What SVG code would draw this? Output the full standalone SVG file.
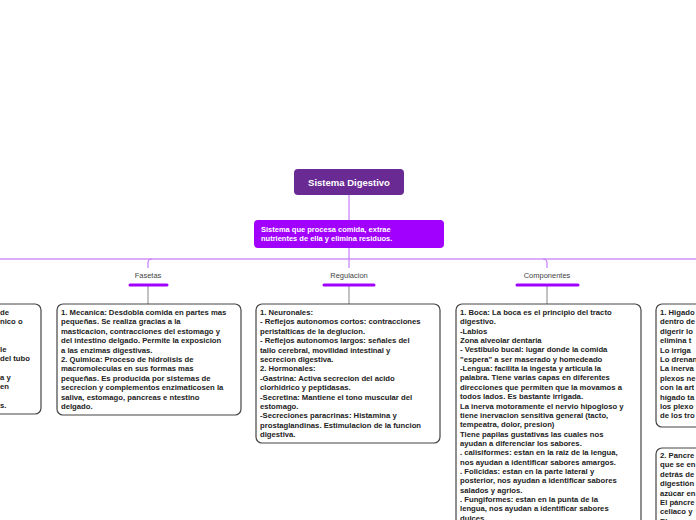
<svg xmlns="http://www.w3.org/2000/svg" width="696" height="520" viewBox="0 0 696 520">
<style>
.box{fill:#fff;stroke:#444;stroke-width:1.2}
.t{font-family:"Liberation Sans",Arial,sans-serif;font-size:7.7px;font-weight:bold;fill:#222}
.lbl{font-family:"Liberation Sans",Arial,sans-serif;font-size:7.5px;fill:#444;text-anchor:middle}
.ul{stroke:#a100ff;stroke-width:3;stroke-linecap:round}
.g{stroke:#999;stroke-width:1.2;fill:none}
.p{stroke:#c77dff;stroke-width:1.2;fill:none}
</style>
<rect width="696" height="520" fill="#fff"/>
<g id="connectors">
<line class="p" x1="349" y1="195" x2="349" y2="221"/>
<line x1="0" y1="259" x2="696" y2="259" stroke="#b45cf0" stroke-width="1.2"/>
<line class="p" x1="349" y1="248" x2="349" y2="268"/>
<path class="p" d="M148 268 V263 Q148 259 152 259"/>
<path class="p" d="M547 268 V263 Q547 259 543 259"/>
<line class="g" x1="148" y1="286" x2="148" y2="304"/>
<line class="g" x1="349" y1="286" x2="349" y2="304"/>
<line class="g" x1="547" y1="286" x2="547" y2="304"/>
</g>
<g id="root">
<rect x="294" y="169" width="110" height="26" rx="4" fill="#6a2a94"/>
<text x="349" y="186" text-anchor="middle" font-family="'Liberation Sans',Arial,sans-serif" font-size="9.5" font-weight="bold" fill="#fff">Sistema Digestivo</text>
</g>
<g id="desc">
<rect x="254" y="220" width="190" height="28" rx="4" fill="#a100ff"/>
<text x="261" y="232" font-family="'Liberation Sans',Arial,sans-serif" font-size="7.5" font-weight="bold" fill="#fff"><tspan x="261">Sistema que procesa comida, extrae</tspan><tspan x="261" dy="9">nutrientes de ella y elimina residuos.</tspan></text>
</g>
<g id="fasetas-label"><text class="lbl" x="148" y="278">Fasetas</text><line class="ul" x1="130" y1="285" x2="167" y2="285"/></g>
<g id="regulacion-label"><text class="lbl" x="349" y="278">Regulacion</text><line class="ul" x1="324" y1="285" x2="374" y2="285"/></g>
<g id="componentes-label"><text class="lbl" x="547" y="278">Componentes</text><line class="ul" x1="517" y1="285" x2="578" y2="285"/></g>
<g id="left-box">
<rect class="box" x="-20" y="304" width="61" height="110" rx="6"/>
<text class="t"><tspan x="0" y="315">de</tspan><tspan x="0" y="324">nico o</tspan><tspan x="0" y="352">le</tspan><tspan x="0" y="361">del tubo</tspan><tspan x="0" y="380">a y</tspan><tspan x="0" y="389">en</tspan><tspan x="0" y="408">s.</tspan></text>
</g>
<g id="fasetas-box">
<rect class="box" x="57" y="304" width="184" height="111" rx="6"/>
<text class="t"><tspan x="61" y="315">1. Mecanica: Desdobla comida en partes mas</tspan><tspan x="61" dy="9.4">pequeñas. Se realiza gracias a la</tspan><tspan x="61" dy="9.4">masticacion, contracciones del estomago y</tspan><tspan x="61" dy="9.4">del intestino delgado. Permite la exposicion</tspan><tspan x="61" dy="9.4">a las enzimas digestivas.</tspan><tspan x="61" dy="9.4">2. Quimica: Proceso de hidrolisis de</tspan><tspan x="61" dy="9.4">macromoleculas en sus formas mas</tspan><tspan x="61" dy="9.4">pequeñas. Es producida por sistemas de</tspan><tspan x="61" dy="9.4">secrecion y complementos enzimaticosen la</tspan><tspan x="61" dy="9.4">saliva, estomago, pancreas e ntestino</tspan><tspan x="61" dy="9.4">delgado.</tspan></text>
</g>
<g id="regulacion-box">
<rect class="box" x="256" y="304" width="184" height="139" rx="6"/>
<text class="t"><tspan x="260" y="315">1. Neuronales:</tspan><tspan x="260" dy="9.4">- Reflejos autonomos cortos: contracciones</tspan><tspan x="260" dy="9.4">peristalticas de la deglucion.</tspan><tspan x="260" dy="9.4">- Reflejos autonomos largos: señales del</tspan><tspan x="260" dy="9.4">tallo cerebral, movilidad intestinal y</tspan><tspan x="260" dy="9.4">secrecion digestiva.</tspan><tspan x="260" dy="9.4">2. Hormonales:</tspan><tspan x="260" dy="9.4">-Gastrina: Activa secrecion del acido</tspan><tspan x="260" dy="9.4">clorhidrico y peptidasas.</tspan><tspan x="260" dy="9.4">-Secretina: Mantiene el tono muscular del</tspan><tspan x="260" dy="9.4">estomago.</tspan><tspan x="260" dy="9.4">-Secreciones paracrinas: Histamina y</tspan><tspan x="260" dy="9.4">prostaglandinas. Estimulacion de la funcion</tspan><tspan x="260" dy="9.4">digestiva.</tspan></text>
</g>
<g id="componentes-box">
<rect class="box" x="456" y="304" width="185" height="230" rx="6"/>
<text class="t"><tspan x="460" y="315">1. Boca: La boca es el principio del tracto</tspan><tspan x="460" dy="9.35">digestivo.</tspan><tspan x="460" dy="9.35">-Labios</tspan><tspan x="460" dy="9.35">Zona alveolar dentaria</tspan><tspan x="460" dy="9.35">- Vestibulo bucal: lugar donde la comida</tspan><tspan x="460" dy="9.35">"espera" a ser maserado y homedeado</tspan><tspan x="460" dy="9.35">-Lengua: facilita la ingesta y articula la</tspan><tspan x="460" dy="9.35">palabra. Tiene varias capas en diferentes</tspan><tspan x="460" dy="9.35">direcciones que permiten que la movamos a</tspan><tspan x="460" dy="9.35">todos lados. Es bastante irrigada.</tspan><tspan x="460" dy="9.35">La inerva motoramente el nervio hipogloso y</tspan><tspan x="460" dy="9.35">tiene inervacion sensitiva general (tacto,</tspan><tspan x="460" dy="9.35">tempeatra, dolor, presion)</tspan><tspan x="460" dy="9.35">Tiene papilas gustativas las cuales nos</tspan><tspan x="460" dy="9.35">ayudan a diferenciar los sabores.</tspan><tspan x="460" dy="9.35">. calisiformes: estan en la raiz de la lengua,</tspan><tspan x="460" dy="9.35">nos ayudan a identificar sabores amargos.</tspan><tspan x="460" dy="9.35">. Folicidas: estan en la parte lateral y</tspan><tspan x="460" dy="9.35">posterior, nos ayudan a identificar sabores</tspan><tspan x="460" dy="9.35">salados y agrios.</tspan><tspan x="460" dy="9.35">. Fungiformes: estan en la punta de la</tspan><tspan x="460" dy="9.35">lengua, nos ayudan a identificar sabores</tspan><tspan x="460" dy="9.35">dulces.</tspan></text>
</g>
<g id="higado-box">
<rect class="box" x="656" y="304" width="80" height="123" rx="6"/>
<text class="t"><tspan x="660" y="315">1. Higado</tspan><tspan x="660" dy="9.4">dentro de</tspan><tspan x="660" dy="9.4">digerir lo</tspan><tspan x="660" dy="9.4">elimina t</tspan><tspan x="660" dy="9.4">Lo irriga</tspan><tspan x="660" dy="9.4">Lo drenan</tspan><tspan x="660" dy="9.4">La inerva</tspan><tspan x="660" dy="9.4">plexos ne</tspan><tspan x="660" dy="9.4">con la art</tspan><tspan x="660" dy="9.4">hígado ta</tspan><tspan x="660" dy="9.4">los plexo</tspan><tspan x="660" dy="9.4">de los tro</tspan></text>
</g>
<g id="pancreas-box">
<rect class="box" x="656" y="448" width="80" height="90" rx="6"/>
<text class="t"><tspan x="660" y="458">2. Pancre</tspan><tspan x="660" dy="9.4">que se en</tspan><tspan x="660" dy="9.4">detrás de</tspan><tspan x="660" dy="9.4">digestión</tspan><tspan x="660" dy="9.4">azúcar en</tspan><tspan x="660" dy="9.4">El páncre</tspan><tspan x="660" dy="9.4">celiaco y</tspan><tspan x="660" dy="9.4">El pancre</tspan></text>
</g>
</svg>
